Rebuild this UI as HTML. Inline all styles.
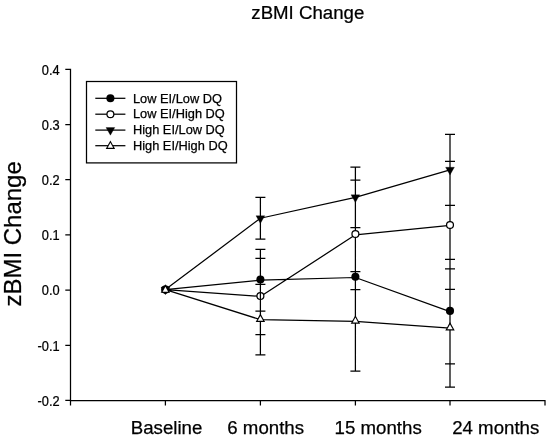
<!DOCTYPE html><html><head><meta charset="utf-8"><style>html,body{margin:0;padding:0;background:#fff;}svg{display:block;}text{font-family:"Liberation Sans",Arial,sans-serif;fill:#000;stroke:#000;stroke-width:0.25px;}</style></head><body>
<svg width="550" height="437" viewBox="0 0 550 437">
<rect width="550" height="437" fill="#fff"/>
<text transform="translate(251.3,18.7) scale(1,0.94)" font-size="18.67">zBMI Change</text>
<text transform="translate(20.9,233.9) rotate(-90)" text-anchor="middle" font-size="24">zBMI Change</text>
<path d="M70.5,68.80000000000001 V405.5 M69.9,400.5 H545.6 M65.3,69.40 H70.5 M65.3,124.57 H70.5 M65.3,179.74 H70.5 M65.3,234.91 H70.5 M65.3,290.08 H70.5 M65.3,345.25 H70.5 M65.3,400.42 H70.5 M165.40,400.5 V405.5 M260.40,400.5 V405.5 M355.40,400.5 V405.5 M450.00,400.5 V405.5 M545.00,400.5 V405.5" fill="none" stroke="#000" stroke-width="1.25"/>
<text transform="translate(59.6,74.70) scale(0.93,1)" font-size="13.8" text-anchor="end">0.4</text>
<text transform="translate(59.6,129.87) scale(0.93,1)" font-size="13.8" text-anchor="end">0.3</text>
<text transform="translate(59.6,185.04) scale(0.93,1)" font-size="13.8" text-anchor="end">0.2</text>
<text transform="translate(59.6,240.21) scale(0.93,1)" font-size="13.8" text-anchor="end">0.1</text>
<text transform="translate(59.6,295.38) scale(0.93,1)" font-size="13.8" text-anchor="end">0.0</text>
<text transform="translate(59.6,350.55) scale(0.93,1)" font-size="13.8" text-anchor="end">-0.1</text>
<text transform="translate(59.6,405.72) scale(0.93,1)" font-size="13.8" text-anchor="end">-0.2</text>
<text x="130.8" y="433.7" font-size="18.67">Baseline</text>
<text x="227.3" y="433.7" font-size="18.67">6 months</text>
<text x="334.6" y="433.7" font-size="18.67">15 months</text>
<text x="452.2" y="433.7" font-size="18.67">24 months</text>
<path d="M165.40,289.60 L260.40,280.15 L355.40,277.50 L450.00,311.65 M165.40,289.60 L260.40,296.45 L355.40,234.85 L450.00,225.35 M165.40,289.60 L260.40,218.25 L355.40,197.35 L450.00,169.90 M165.40,289.60 L260.40,319.65 L355.40,321.35 L450.00,328.05" fill="none" stroke="#000" stroke-width="1.25" stroke-linejoin="round"/>
<circle cx="165.40" cy="289.60" r="3.45" fill="#fff" stroke="#000" stroke-width="1.25"/>
<circle cx="260.40" cy="296.00" r="3.45" fill="#fff" stroke="#000" stroke-width="1.25"/>
<circle cx="355.40" cy="234.00" r="3.45" fill="#fff" stroke="#000" stroke-width="1.25"/>
<circle cx="450.00" cy="225.00" r="3.45" fill="#fff" stroke="#000" stroke-width="1.25"/>
<circle cx="165.40" cy="289.60" r="4.05" fill="#000"/>
<circle cx="260.40" cy="279.50" r="4.05" fill="#000"/>
<circle cx="355.40" cy="276.80" r="4.05" fill="#000"/>
<circle cx="450.00" cy="310.90" r="4.05" fill="#000"/>
<polygon points="161.00,287.05 169.80,287.05 165.40,294.70" fill="#000" stroke="#000" stroke-width="0.3"/>
<polygon points="256.00,215.75 264.80,215.75 260.40,223.40" fill="#000" stroke="#000" stroke-width="0.3"/>
<polygon points="351.00,194.85 359.80,194.85 355.40,202.50" fill="#000" stroke="#000" stroke-width="0.3"/>
<polygon points="445.60,167.25 454.40,167.25 450.00,174.90" fill="#000" stroke="#000" stroke-width="0.3"/>
<path d="M260.40,197.30 V239.20 M260.40,249.30 V354.90 M255.40,249.30 H265.40 M255.40,311.00 H265.40 M255.40,258.40 H265.40 M255.40,334.50 H265.40 M255.40,197.30 H265.40 M255.40,239.20 H265.40 M255.40,284.40 H265.40 M255.40,354.90 H265.40 M355.40,167.10 V231.00 M355.40,237.00 V371.20 M350.40,180.20 H360.40 M350.40,289.50 H360.40 M350.40,167.10 H360.40 M350.40,227.60 H360.40 M350.40,271.50 H360.40 M350.40,371.20 H360.40 M450.00,134.40 V222.00 M450.00,228.00 V387.20 M445.00,259.40 H455.00 M445.00,363.90 H455.00 M445.00,161.40 H455.00 M445.00,289.30 H455.00 M445.00,134.40 H455.00 M445.00,205.40 H455.00 M445.00,268.90 H455.00 M445.00,387.20 H455.00" fill="none" stroke="#000" stroke-width="1.25"/>
<polygon points="165.40,284.30 160.70,292.80 170.10,292.80" fill="#000"/><polygon points="165.40,286.68 162.65,291.65 168.15,291.65" fill="#fff"/>
<polygon points="260.40,313.50 255.70,322.00 265.10,322.00" fill="#000"/><polygon points="260.40,315.88 257.65,320.85 263.15,320.85" fill="#fff"/>
<polygon points="355.40,315.15 350.70,323.65 360.10,323.65" fill="#000"/><polygon points="355.40,317.53 352.65,322.50 358.15,322.50" fill="#fff"/>
<polygon points="450.00,322.00 445.30,330.50 454.70,330.50" fill="#000"/><polygon points="450.00,324.38 447.25,329.35 452.75,329.35" fill="#fff"/>
<rect x="86.5" y="81.5" width="150" height="81.4" fill="#fff" stroke="#000" stroke-width="1.25"/>
<path d="M95.3,98.3 H125.4" stroke="#000" stroke-width="1.25"/>
<circle cx="110.40" cy="98.30" r="4.05" fill="#000"/>
<text x="133.0" y="103.20" font-size="12.8">Low EI/Low DQ</text>
<path d="M95.3,114.2 H125.4" stroke="#000" stroke-width="1.25"/>
<circle cx="110.40" cy="114.20" r="3.45" fill="#fff" stroke="#000" stroke-width="1.25"/>
<text x="133.0" y="118.10" font-size="12.8">Low EI/High DQ</text>
<path d="M95.3,130.1 H125.4" stroke="#000" stroke-width="1.25"/>
<polygon points="106.00,127.55 114.80,127.55 110.40,135.20" fill="#000" stroke="#000" stroke-width="0.3"/>
<text x="133.0" y="134.20" font-size="12.8">High EI/Low DQ</text>
<path d="M95.3,145.7 H125.4" stroke="#000" stroke-width="1.25"/>
<polygon points="110.40,140.40 105.70,148.90 115.10,148.90" fill="#000"/><polygon points="110.40,142.78 107.65,147.75 113.15,147.75" fill="#fff"/>
<text x="133.0" y="150.30" font-size="12.8">High EI/High DQ</text>
</svg></body></html>
